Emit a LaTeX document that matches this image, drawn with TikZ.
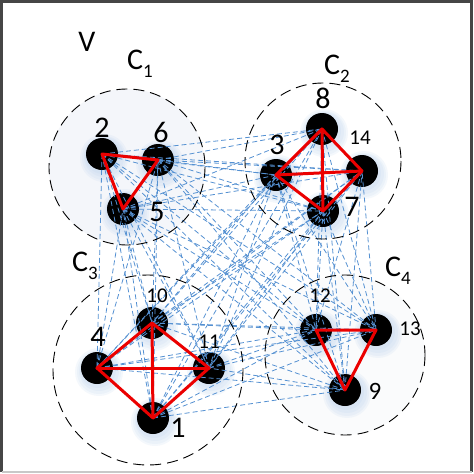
\documentclass[tikz,border=0pt]{standalone}
\usepackage{fontspec}
\setmainfont{Carlito}
\definecolor{cfillA}{RGB}{244,246,250}
\definecolor{cfillB}{RGB}{250,251,252}
\definecolor{glowc}{RGB}{170,200,235}
\definecolor{blueedge}{RGB}{85,145,210}
\definecolor{rededge}{RGB}{235,0,0}
\definecolor{framedark}{RGB}{70,70,70}
\definecolor{framelight}{RGB}{200,200,200}
\begin{document}
\begin{tikzpicture}[x=1pt,y=-1pt,
  disk/.style={circle,fill=black,minimum size=32pt,inner sep=0pt},
  glow/.style={circle,fill=glowc,opacity=0.12,minimum size=#1,inner sep=0pt},
  bedge/.style={draw=blueedge,line width=0.8pt,dash pattern=on 5pt off 3pt},
  redge/.style={draw=rededge,line width=3pt,line cap=round,line join=round},
  cluster/.style={draw=black,line width=0.9pt,dash pattern=on 11pt off 6pt},
  bigl/.style={font=\fontsize{30}{30}\selectfont,inner sep=0pt},
  smalll/.style={font=\fontsize{21}{21}\selectfont,inner sep=0pt},
  clabel/.style={font=\fontsize{30}{30}\selectfont,inner sep=0pt}
]
\useasboundingbox (0,0) rectangle (474,474);
\fill[white] (0,0) rectangle (474,474);
% cluster fills
\fill[cfillA] (127,167) circle (78);
\fill[cfillB] (345,355) circle (80);
% glows
\foreach \x/\y in {153/418,102/154,276/175,97/368,123/209,158/160,323/211,322/129,345/390,152/323,209/368,316/330,376/330,362/171}{
  \node[glow=48pt] at (\x+2,\y+4) {};
  \node[glow=44pt] at (\x+2,\y+4) {};
  \node[glow=40pt] at (\x+2,\y+3) {};
  \node[glow=36pt] at (\x+1,\y+2) {};
}
% disks
\node[disk] (n1) at (153,418) {};
\node[disk] (n2) at (102,154) {};
\node[disk] (n3) at (276,175) {};
\node[disk] (n4) at (97,368) {};
\node[disk] (n5) at (123,209) {};
\node[disk] (n6) at (158,160) {};
\node[disk] (n7) at (323,211) {};
\node[disk] (n8) at (322,129) {};
\node[disk] (n9) at (345,390) {};
\node[disk] (n10) at (152,323) {};
\node[disk] (n11) at (209,368) {};
\node[disk] (n12) at (316,330) {};
\node[disk] (n13) at (376,330) {};
\node[disk] (n14) at (362,171) {};
% blue dashed edges between all pairs
\foreach \a in {1,...,14}{
  \foreach \b in {1,...,14}{
    \ifnum\a<\b
      \draw[bedge] (n\a.center) -- (n\b.center);
    \fi
  }
}
% red intra-cluster edges
\draw[redge] (n2.center) -- (n6.center) -- (n5.center) -- cycle;
\draw[redge] (n8.center) -- (n3.center) -- (n7.center) -- (n14.center) -- cycle;
\draw[redge] (n8.center) -- (n7.center);
\draw[redge] (n3.center) -- (n14.center);
\draw[redge] (n10.center) -- (n4.center) -- (n1.center) -- (n11.center) -- cycle;
\draw[redge] (n10.center) -- (n1.center);
\draw[redge] (n4.center) -- (n11.center);
\draw[redge] (n12.center) -- (n13.center) -- (n9.center) -- cycle;
% cluster outlines
\draw[cluster] (127,167) circle (78);
\draw[cluster] (323,161) circle (78);
\draw[cluster] (148,370) circle (95);
\draw[cluster] (345,355) circle (80);
% labels
\node[clabel] (lV) at (87,42) {V};
\node[clabel] (lC1) at (140,64) {C\raisebox{-0.25em}{\fontsize{19}{19}\selectfont 1}};
\node[clabel] (lC2) at (337,69) {C\raisebox{-0.25em}{\fontsize{19}{19}\selectfont 2}};
\node[clabel] (lC3) at (85,266) {C\raisebox{-0.25em}{\fontsize{19}{19}\selectfont 3}};
\node[clabel] (lC4) at (398,271) {C\raisebox{-0.25em}{\fontsize{19}{19}\selectfont 4}};
\node[bigl] (l2) at (102,128) {2};
\node[bigl] (l6) at (161,132) {6};
\node[bigl] (l5) at (157,212) {5};
\node[bigl] (l8) at (323,98) {8};
\node[bigl] (l3) at (277,145) {3};
\node[smalll] (l14) at (360,138) {14};
\node[bigl] (l7) at (352,207) {7};
\node[smalll] (l10) at (157,296) {10};
\node[bigl] (l4) at (98,337) {4};
\node[smalll] (l11) at (209,342) {11};
\node[bigl] (l1) at (178,428) {1};
\node[smalll] (l12) at (320,296) {12};
\node[smalll] (l13) at (410,329) {13};
\node[font=\fontsize{25}{25}\selectfont,inner sep=0pt] (l9) at (375,391) {9};
% frame
\draw[framedark,line width=3pt] (1.5,472) -- (1.5,1.5) -- (471.5,1.5) -- (471.5,472);
\draw[framelight,line width=2.5pt] (1.5,472) -- (471.5,472);
\end{tikzpicture}
\end{document}
